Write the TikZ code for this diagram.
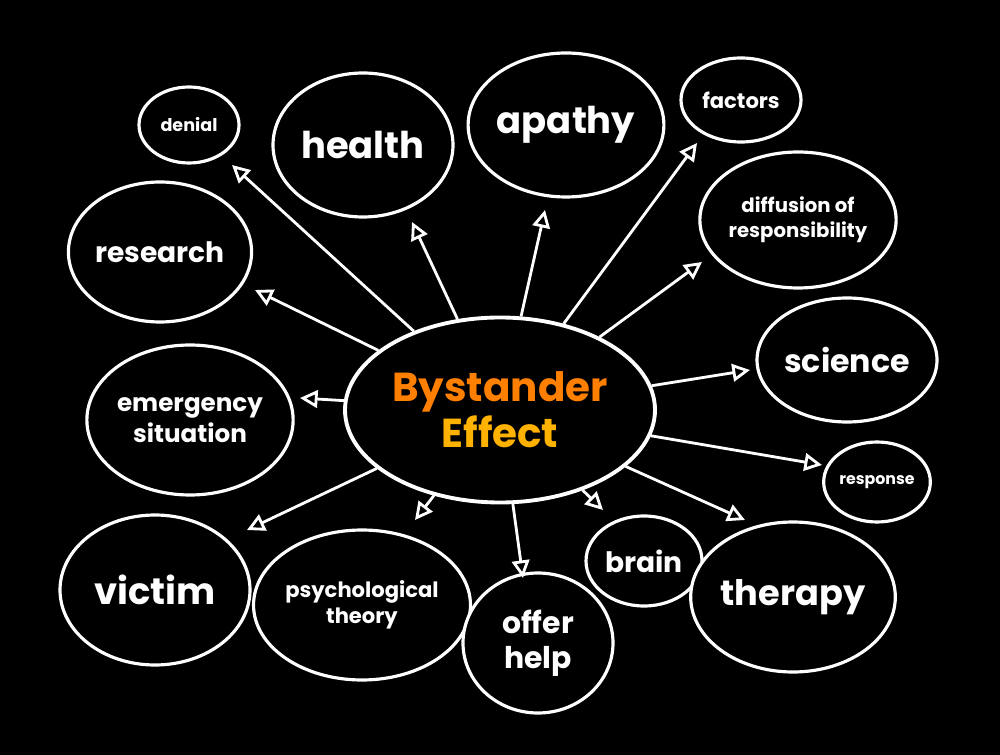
\documentclass[tikz,border=0pt]{standalone}
\usepackage{fontspec}
\setmainfont{Poppins}
\usetikzlibrary{shapes.geometric,arrows.meta}
\begin{document}
\begin{tikzpicture}[x=0.01cm,y=-0.01cm,
  bub/.style={ellipse,draw=white,line width=0.9pt,fill=black,text=white,inner sep=0pt,align=center,font=\bfseries},
  sz/.style 2 args={minimum width=#1*0.01cm,minimum height=#2*0.01cm},
  arr/.style={white,line width=0.8pt,-{Triangle[open,length=5pt,width=5pt,line width=0.8pt]}}]
\fill[black] (0,0) rectangle (1000,755);
\useasboundingbox (0,0) rectangle (1000,755);
\node[bub,sz={310}{185},line width=1.1pt] (c) at (500,410)
  {\fontsize{11.5}{12}\selectfont\color{orange}Bystander\\\fontsize{11.5}{12}\selectfont\color{orange!60!yellow}Effect};
\node[bub,sz={100}{76},font=\bfseries\fontsize{5}{6}\selectfont] (den) at (189,125) {denial};
\node[bub,sz={180}{144},font=\bfseries\fontsize{10.5}{12}\selectfont] (hea) at (363,145) {health};
\node[bub,sz={184}{144},font=\bfseries\fontsize{10.5}{12}\selectfont] (apa) at (566,125) {apathy};
\node[bub,sz={120}{84},font=\bfseries\fontsize{6}{7}\selectfont] (fac) at (741,100) {factors};
\node[bub,sz={194}{136},font=\bfseries\fontsize{5.6}{7}\selectfont] (dif) at (798,220) {diffusion of\\responsibility};
\node[bub,sz={180}{140},font=\bfseries\fontsize{8}{9}\selectfont] (res) at (160,252) {research};
\node[bub,sz={180}{124},font=\bfseries\fontsize{9}{11}\selectfont] (sci) at (847,360) {science};
\node[bub,sz={200}{150},font=\bfseries\fontsize{7}{9}\selectfont] (eme) at (190,420) {emergency\\situation};
\node[bub,sz={100}{80},font=\bfseries\fontsize{4.5}{5}\selectfont] (rsp) at (877,482) {response};
\node[bub,sz={190}{150},font=\bfseries\fontsize{10.5}{12}\selectfont] (vic) at (155,590) {victim};
\node[bub,sz={190}{150},font=\bfseries\fontsize{6}{7.5}\selectfont] (psy) at (362,605) {psychological\\theory};
\node[bub,sz={150}{140},font=\bfseries\fontsize{8.5}{10}\selectfont] (off) at (538,643) {offer\\help};
\node[bub,sz={116}{90},font=\bfseries\fontsize{8}{9}\selectfont] (bra) at (644,561) {brain};
\node[bub,sz={190}{150},font=\bfseries\fontsize{10}{11}\selectfont] (the) at (793,597) {therapy};
\coordinate (aden) at (232,165);
\coordinate (ahea) at (412,222);
\coordinate (aapa) at (545,210);
\coordinate (afac) at (697,143);
\coordinate (adif) at (702,262);
\coordinate (ares) at (255,290);
\coordinate (asci) at (750,370);
\coordinate (aeme) at (300,398);
\coordinate (arsp) at (822,465);
\coordinate (avic) at (247,530);
\coordinate (apsy) at (415,520);
\coordinate (aoff) at (523,578);
\coordinate (abra) at (603,510);
\coordinate (athe) at (745,520);
\foreach \t in {den,hea,apa,fac,dif,res,sci,eme,rsp,vic,psy,off,bra,the}
  \draw[arr] (c) -- (a\t);
\end{tikzpicture}
\end{document}
